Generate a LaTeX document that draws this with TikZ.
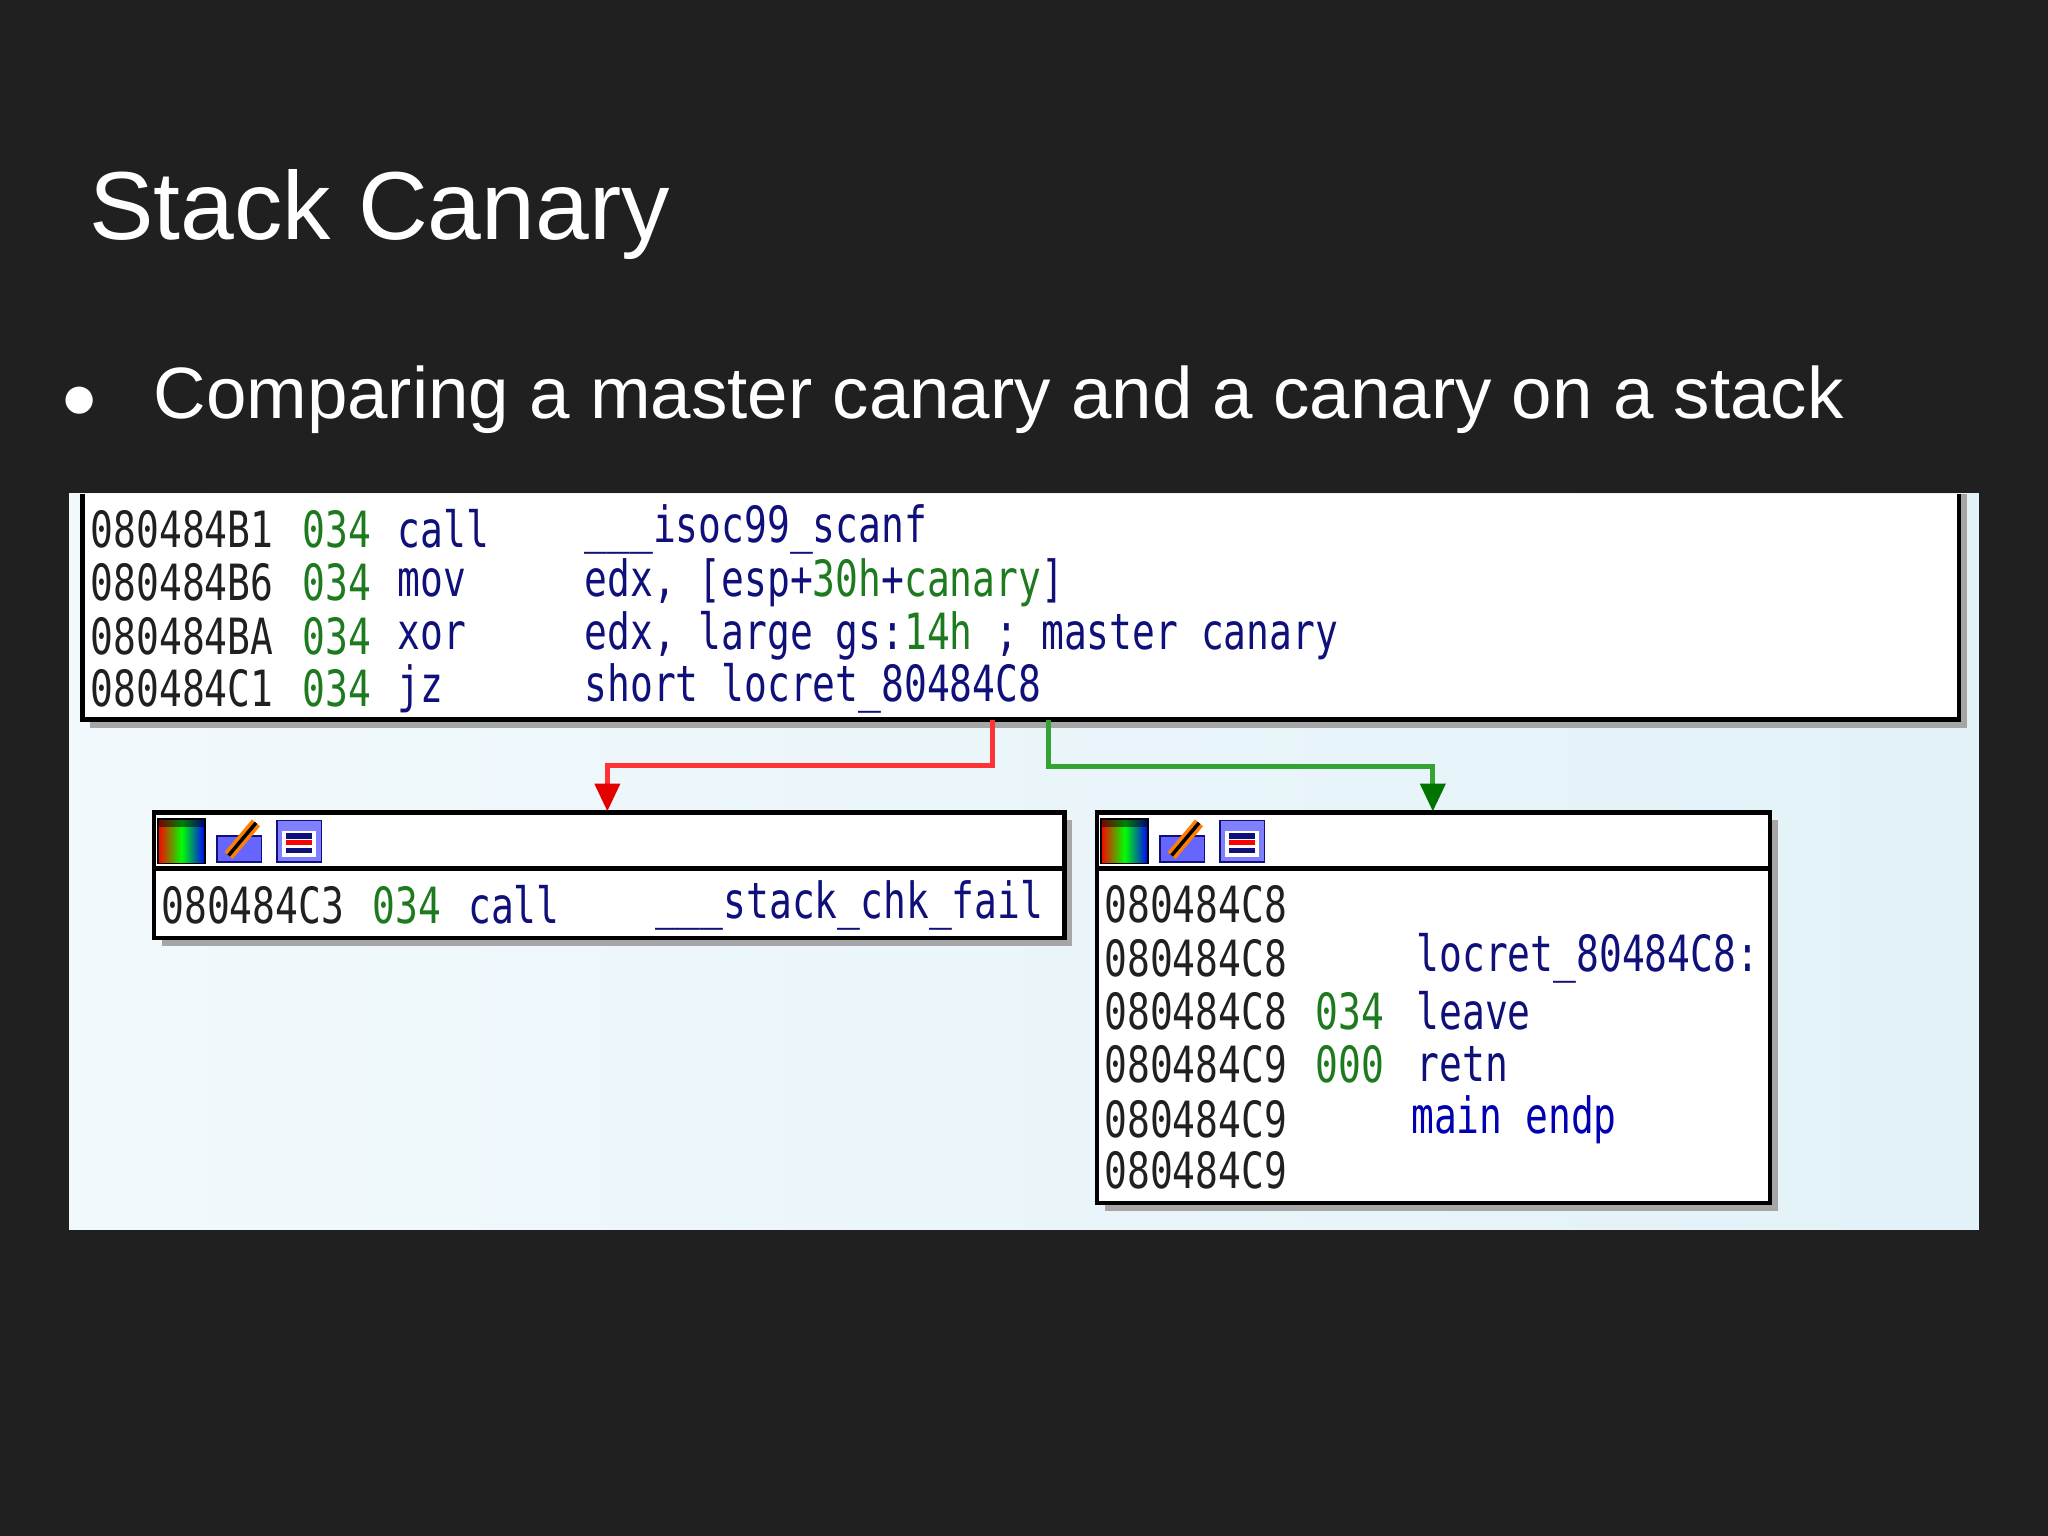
\documentclass[tikz,border=0pt]{standalone}
\usepackage{fontspec}
\setmainfont{Liberation Sans}
\newfontfamily\monof{DejaVu Sans Mono}
\definecolor{bg}{HTML}{202020}
\definecolor{gr}{HTML}{1E7A1E}
\definecolor{nv}{HTML}{10107A}
\definecolor{ad}{HTML}{202020}
\definecolor{pa}{HTML}{F2F9FC}
\definecolor{pb}{HTML}{E2F2F8}
\newcommand\mc[1]{\scalebox{0.76}[1]{\monof\fontsize{14.2}{14.2}\selectfont #1}}
\begin{document}
\begin{tikzpicture}[x=0.013061cm,y=-0.013061cm,
  t/.style={anchor=west,inner sep=0pt},
  box/.style={draw=black,line width=1.3pt,fill=white},
  shd/.style={fill=black!35,draw=none}]
\useasboundingbox (0,0) rectangle (1568,1176);
\fill[bg] (0,0) rectangle (1568,1176);
\node[t,text=white,font=\fontsize{27.5}{27.5}\selectfont] (title) at (68,164) {Stack Canary};
\node[t,text=white,font=\fontsize{18}{18}\selectfont] (bul) at (46,308) {●};
\node[t,text=white,font=\fontsize{20.7}{20.7}\selectfont] (sub) at (117,306) {Comparing a master canary and a canary on a stack};
% panel
\shade[left color=pa, right color=pb] (53,378) rectangle (1515,941);
% top box
\fill[shd] (69,378) rectangle (1506,557);
\fill[white] (63,378) rectangle (1500,551);
\draw[line width=1.3pt] (63,378) -- (63,551) -- (1500,551) -- (1500,378);
% top lines
\foreach \y/\a/\b/\c in {405/080484B1/call/{\textcolor{nv}{\_\_\_isoc99\_scanf}},
  446/080484B6/mov/{\textcolor{nv}{edx, [esp+}\textcolor{gr}{30h}\textcolor{nv}{+}\textcolor{gr}{canary}\textcolor{nv}{]}},
  487/080484BA/xor/{\textcolor{nv}{edx, large gs:}\textcolor{gr}{14h}\textcolor{nv}{\ ; master canary}},
  527/080484C1/jz/{\textcolor{nv}{short locret\_80484C8}}}{
  \node[t,text=ad] at (69,\y) {\mc{\a}};
  \node[t,text=gr] at (231,\y) {\mc{034}};
  \node[t,text=nv] at (304,\y) {\mc{\b}};
  \node[t] at (447,\y) {\mc{\c}};
}
% arrows
\coordinate (rs) at (760,551); \coordinate (gs) at (803,551);
\coordinate (rl) at (465,621); \coordinate (gl) at (1097,621);
\draw[red!80!white,line width=1.5pt] (rs) -- (760,586) -- (465,586) -- (465,605);
\fill[red!90!black] (455,600) -- (475,600) -- (rl) -- cycle;
\draw[green!55!black!80,line width=1.5pt] (gs) -- (803,587) -- (1097,587) -- (1097,605);
\fill[green!45!black] (1087,600) -- (1107,600) -- (gl) -- cycle;
% left box
\fill[shd] (124,628) rectangle (821,724);
\path[box] (118,622) rectangle (815,718);
\draw[line width=1.3pt] (118,665) -- (815,665);
% right box
\fill[shd] (846,628) rectangle (1361,927);
\path[box] (840,622) rectangle (1355,921);
\draw[line width=1.3pt] (840,665) -- (1355,665);
% icons
\foreach \x in {120,842}{
  \shade[left color=red,right color=blue,middle color=green] (\x+1,627) rectangle (\x+37,661);
  \fill[black,opacity=0.5] (\x+1,627) rectangle (\x+37,633);
  \draw[black] (\x+1,627) rectangle (\x+37,661);
  \fill[blue!60!white] (\x+46,640) rectangle (\x+80,660);
  \draw[nv] (\x+46,640) rectangle (\x+80,660);
  \draw[orange,line width=3pt] (\x+55,655) -- (\x+76,630);
  \draw[black,line width=1pt] (\x+55,655) -- (\x+76,630);
  \fill[blue!50!white] (\x+92,628) rectangle (\x+126,660);
  \draw[nv] (\x+92,628) rectangle (\x+126,660);
  \fill[white] (\x+96,636) rectangle (\x+122,656);
  \draw[red,line width=1.5pt] (\x+99,645) -- (\x+119,645);
  \draw[nv,line width=1.5pt] (\x+99,640) -- (\x+119,640) (\x+99,651) -- (\x+119,651);
}
\node[t,text=ad] at (123,693) {\mc{080484C3}};
\node[t,text=gr] at (285,693) {\mc{034}};
\node[t,text=nv] at (358,693) {\mc{call}};
\node[t,text=nv] at (501,693) {\mc{\_\_\_stack\_chk\_fail}};
% right lines
\foreach \y/\a in {692/080484C8,734/080484C8,774/080484C8,815/080484C9,857/080484C9,896/080484C9}
  \node[t,text=ad] at (845,\y) {\mc{\a}};
\node[t,text=nv] at (1084,734) {\mc{locret\_80484C8:}};
\node[t,text=gr] at (1007,774) {\mc{034}};
\node[t,text=nv] at (1084,774) {\mc{leave}};
\node[t,text=gr] at (1007,815) {\mc{000}};
\node[t,text=nv] at (1084,815) {\mc{retn}};
\node[t,text=blue!70!black] at (1080,857) {\mc{main endp}};
\end{tikzpicture}
\end{document}
